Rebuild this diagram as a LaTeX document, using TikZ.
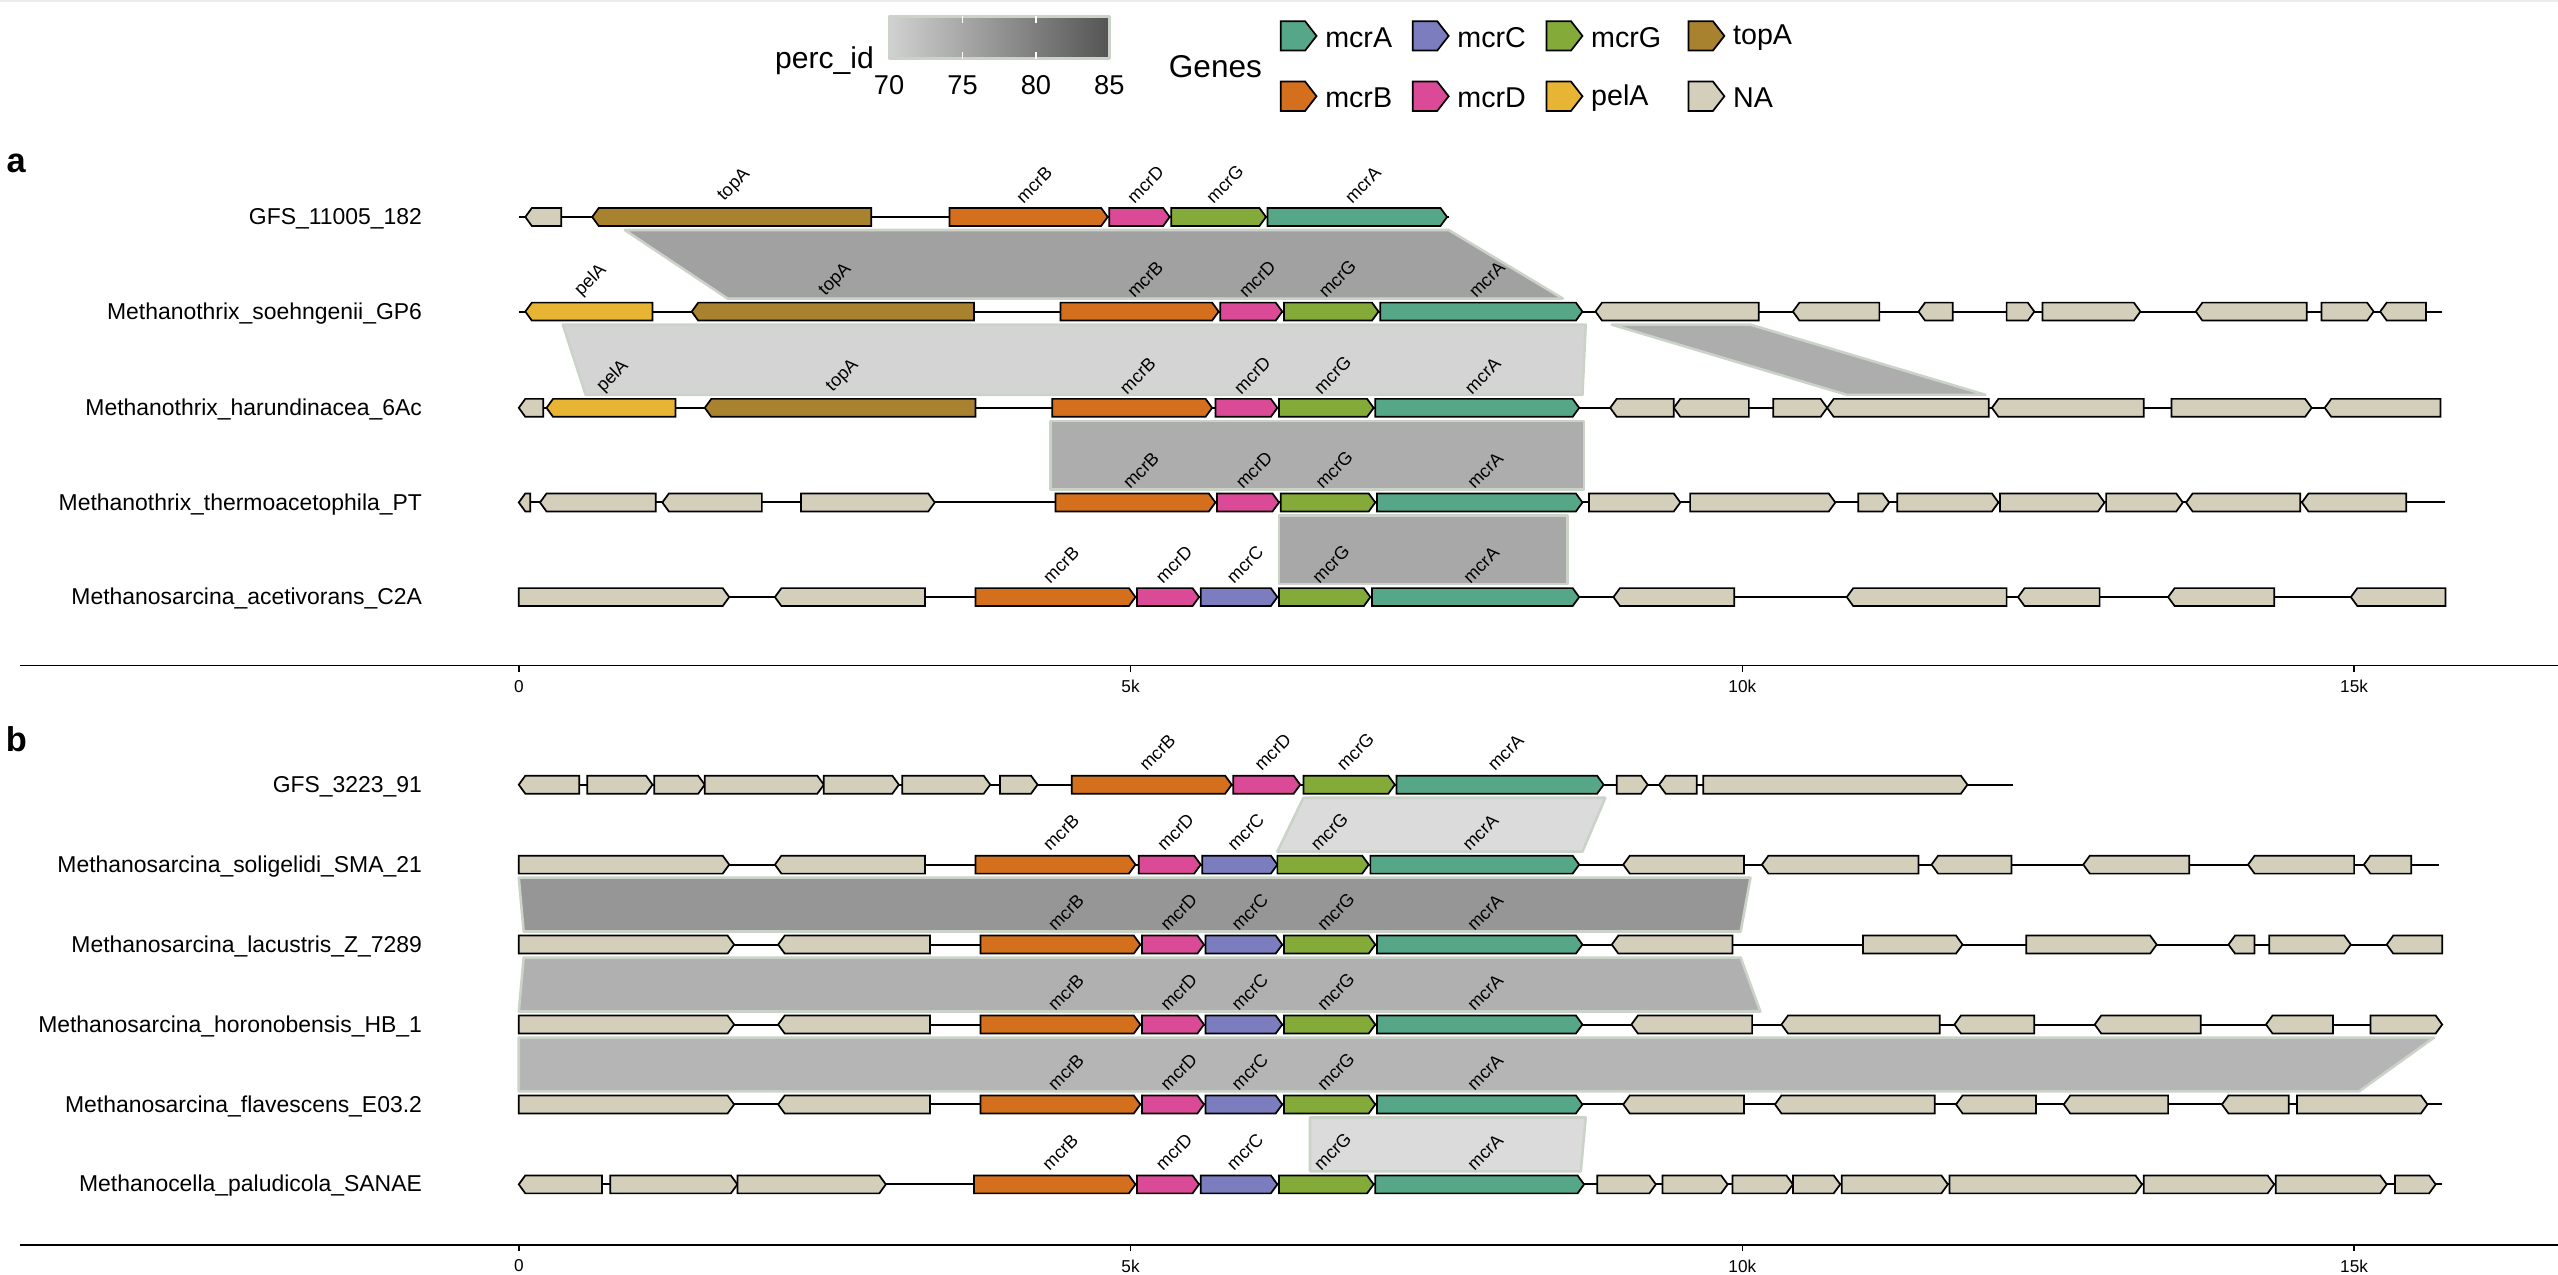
\documentclass[tikz,border=0pt]{standalone}
\usepackage{fontspec}
\setmainfont{Liberation Sans}
\definecolor{cA}{HTML}{56A788}
\definecolor{cB}{HTML}{D4701D}
\definecolor{cC}{HTML}{7B7DBE}
\definecolor{cD}{HTML}{DB4A96}
\definecolor{cG}{HTML}{84AB3A}
\definecolor{cP}{HTML}{E8B434}
\definecolor{cT}{HTML}{A98230}
\definecolor{cN}{HTML}{D4CFBB}
\definecolor{shedge}{HTML}{CBD3C9}
\tikzset{
 gene/.style={draw=black,line width=0.6pt,line join=miter},
 backbone/.style={draw=black,line width=0.7pt},
 glabel/.style={font=\fontsize{6.3}{6.5}\selectfont,rotate=45,anchor=south west,inner sep=0.4pt},
 species/.style={font=\fontsize{8}{9}\selectfont,anchor=east,inner sep=0pt},
 shade/.style={draw=shedge,line width=0.9pt,line join=round},
 tick/.style={font=\fontsize{6}{7}\selectfont,inner sep=0pt},
 legtxt/.style={font=\fontsize{10}{12}\selectfont,anchor=west,inner sep=0pt},
}
\newcounter{glc}
\newcommand\drawgene[6]{%
 \pgfmathsetmacro\gHd{min(4,(#2)-(#1))}%
 \ifnum#4=1
  \draw[gene,fill=#5] ({#1},{#3-5.5}) -- ({#2-\gHd},{#3-5.5}) -- ({#2},{#3}) -- ({#2-\gHd},{#3+5.5}) -- ({#1},{#3+5.5}) -- cycle;
 \else
  \draw[gene,fill=#5] ({#2},{#3-5.5}) -- ({#1+\gHd},{#3-5.5}) -- ({#1},{#3}) -- ({#1+\gHd},{#3+5.5}) -- ({#2},{#3+5.5}) -- cycle;
 \fi
 \def\gLtmp{#6}%
 \ifx\gLtmp\empty\else
  \stepcounter{glc}%
  \node[glabel] (gl\arabic{glc}) at ({(#1+#2)/2-3},{#3-6.3}) {#6};
 \fi}
\begin{document}
\begin{tikzpicture}[x=0.02cm,y=-0.02cm]
\useasboundingbox (0,0) rectangle (1568,781);
\draw[black!8,line width=1pt] (0,0.5) -- (1568,0.5);
% ---- legend
\node[font=\fontsize{10.5}{12}\selectfont,anchor=east,inner sep=0pt] (pid) at (536,37) {perc\_id};
\shade[left color=black!18,right color=black!67] (545,10) rectangle (680,36);
\foreach \xx in {590,635}{\draw[white,line width=0.5pt] (\xx,10) -- (\xx,14); \draw[white,line width=0.5pt] (\xx,32) -- (\xx,36);}
\foreach \xx/\tt in {545/70,590/75,635/80,680/85}{\node[font=\fontsize{9.5}{11}\selectfont,inner sep=0pt] (cbl\tt) at (\xx,52) {\tt};}
\node[font=\fontsize{11}{12}\selectfont,inner sep=0pt] (genes) at (745,41) {Genes};
\foreach \kx/\ky/\kc/\kt in {785/22/cA/mcrA,866/22/cC/mcrC,948/22/cG/mcrG,1035/22/cT/topA,785/59/cB/mcrB,866/59/cD/mcrD,948/59/cP/pelA,1035/59/cN/NA}{
 \draw[gene,fill=\kc] (\kx,\ky-9) -- (\kx+15,\ky-9) -- (\kx+22,\ky) -- (\kx+15,\ky+9) -- (\kx,\ky+9) -- cycle;
 \node[legtxt] (lg\kt) at (\kx+27,\ky+1) {\kt};}
% ---- panel labels
\node[font=\bfseries\fontsize{12}{13}\selectfont,inner sep=0pt] (pa) at (10,100) {a};
\node[font=\bfseries\fontsize{12}{13}\selectfont,inner sep=0pt] (pb) at (10,453) {b};
% ---- shading panel a
\fill[black!37] (383,141) -- (888,141) -- (958,183) -- (446,183) -- cycle;
\draw[shade] (383,141) -- (888,141) -- (958,183) -- (446,183) -- cycle;
\fill[black!17] (345,199) -- (972,199) -- (970,242) -- (359,242) -- cycle;
\draw[shade] (345,199) -- (972,199) -- (970,242) -- (359,242) -- cycle;
\fill[black!32] (988,199) -- (1073,199) -- (1217,242) -- (1132,242) -- cycle;
\draw[shade] (988,199) -- (1073,199) -- (1217,242) -- (1132,242) -- cycle;
\fill[black!32] (644,258) -- (971,258) -- (971,300) -- (644,300) -- cycle;
\draw[shade] (644,258) -- (971,258) -- (971,300) -- (644,300) -- cycle;
\fill[black!34] (784,316) -- (961,316) -- (961,358) -- (784,358) -- cycle;
\draw[shade] (784,316) -- (961,316) -- (961,358) -- (784,358) -- cycle;
% ---- shading panel b
\fill[black!14] (799,489) -- (984,489) -- (970,522) -- (783,522) -- cycle;
\draw[shade] (799,489) -- (984,489) -- (970,522) -- (783,522) -- cycle;
\fill[black!41] (318,538) -- (1073,538) -- (1067,571) -- (321,571) -- cycle;
\draw[shade] (318,538) -- (1073,538) -- (1067,571) -- (321,571) -- cycle;
\fill[black!31] (321,587) -- (1067,587) -- (1079,620) -- (318,620) -- cycle;
\draw[shade] (321,587) -- (1067,587) -- (1079,620) -- (318,620) -- cycle;
\fill[black!29] (318,636) -- (1492,636) -- (1446,669) -- (318,669) -- cycle;
\draw[shade] (318,636) -- (1492,636) -- (1446,669) -- (318,669) -- cycle;
\fill[black!14] (803,685) -- (972,685) -- (969,718) -- (803,718) -- cycle;
\draw[shade] (803,685) -- (972,685) -- (969,718) -- (803,718) -- cycle;
% ---- species labels
\foreach \yy/\nm [count=\i] in {133/GFS\_11005\_182,191/Methanothrix\_soehngenii\_GP6,250/Methanothrix\_harundinacea\_6Ac,308/Methanothrix\_thermoacetophila\_PT,366/Methanosarcina\_acetivorans\_C2A,481/GFS\_3223\_91,530/Methanosarcina\_soligelidi\_SMA\_21,579/Methanosarcina\_lacustris\_Z\_7289,628/Methanosarcina\_horonobensis\_HB\_1,677/Methanosarcina\_flavescens\_E03.2,726/Methanocella\_paludicola\_SANAE}{
 \node[species] (sp\i) at (259,\yy+1) {\nm};}
% ---- backbones
\foreach \ya/\xa/\xb in {133/318/888,191/318/1497,250/318/1496,308/318/1499,366/318/1499,481/318/1234,530/318/1495,579/318/1497,628/318/1497,677/318/1497,726/318/1497}{
 \draw[backbone] (\xa,\ya) -- (\xb,\ya);}
% ---- row a1
\drawgene{322}{344}{133}{0}{cN}{}
\drawgene{363}{534}{133}{0}{cT}{topA}
\drawgene{582}{679}{133}{1}{cB}{mcrB}
\drawgene{680}{717}{133}{1}{cD}{mcrD}
\drawgene{718}{776}{133}{1}{cG}{mcrG}
\drawgene{777}{887}{133}{1}{cA}{mcrA}
% ---- row a2
\drawgene{322}{400}{191}{0}{cP}{pelA}
\drawgene{424}{597}{191}{0}{cT}{topA}
\drawgene{650}{747}{191}{1}{cB}{mcrB}
\drawgene{748}{786}{191}{1}{cD}{mcrD}
\drawgene{787}{845}{191}{1}{cG}{mcrG}
\drawgene{846}{970}{191}{1}{cA}{mcrA}
\foreach \p/\q/\d in {978/1078/0,1099/1152/0,1176/1197/0,1230/1247/1,1252/1312/1,1346/1414/0,1423/1455/1,1459/1487/0}{\drawgene{\p}{\q}{191}{\d}{cN}{}}
% ---- row a3
\drawgene{318}{333}{250}{0}{cN}{}
\drawgene{335}{414}{250}{0}{cP}{pelA}
\drawgene{432}{598}{250}{0}{cT}{topA}
\drawgene{645}{743}{250}{1}{cB}{mcrB}
\drawgene{745}{783}{250}{1}{cD}{mcrD}
\drawgene{784}{842}{250}{1}{cG}{mcrG}
\drawgene{843}{968}{250}{1}{cA}{mcrA}
\foreach \p/\q/\d in {987/1026/0,1026/1072/0,1087/1120/1,1120/1219/0,1221/1314/0,1331/1417/1,1425/1496/0}{\drawgene{\p}{\q}{250}{\d}{cN}{}}
% ---- row a4
\foreach \p/\q/\d in {318/325/0,331/402/0,406/467/0,491/573/1}{\drawgene{\p}{\q}{308}{\d}{cN}{}}
\drawgene{647}{745}{308}{1}{cB}{mcrB}
\drawgene{746}{784}{308}{1}{cD}{mcrD}
\drawgene{785}{843}{308}{1}{cG}{mcrG}
\drawgene{844}{970}{308}{1}{cA}{mcrA}
\foreach \p/\q/\d in {974/1030/1,1036/1125/1,1139/1158/1,1163/1225/1,1226/1290/1,1291/1338/1,1340/1410/0,1411/1475/0}{\drawgene{\p}{\q}{308}{\d}{cN}{}}
% ---- row a5
\foreach \p/\q/\d in {318/447/1,475/567/0}{\drawgene{\p}{\q}{366}{\d}{cN}{}}
\drawgene{598}{696}{366}{1}{cB}{mcrB}
\drawgene{697}{735}{366}{1}{cD}{mcrD}
\drawgene{736}{783}{366}{1}{cC}{mcrC}
\drawgene{784}{840}{366}{1}{cG}{mcrG}
\drawgene{841}{968}{366}{1}{cA}{mcrA}
\foreach \p/\q/\d in {989/1063/0,1132/1230/0,1237/1287/0,1329/1394/0,1441/1499/0}{\drawgene{\p}{\q}{366}{\d}{cN}{}}
% ---- row b1
\foreach \p/\q/\d in {318/355/0,360/400/1,401/432/1,432/505/1,505/551/1,553/607/1,613/636/1}{\drawgene{\p}{\q}{481}{\d}{cN}{}}
\drawgene{657}{755}{481}{1}{cB}{mcrB}
\drawgene{756}{797}{481}{1}{cD}{mcrD}
\drawgene{799}{855}{481}{1}{cG}{mcrG}
\drawgene{856}{983}{481}{1}{cA}{mcrA}
\foreach \p/\q/\d in {991/1010/1,1017/1040/0,1044/1206/1}{\drawgene{\p}{\q}{481}{\d}{cN}{}}
% ---- row b2
\foreach \p/\q/\d in {318/447/1,475/567/0}{\drawgene{\p}{\q}{530}{\d}{cN}{}}
\drawgene{598}{696}{530}{1}{cB}{mcrB}
\drawgene{698}{736}{530}{1}{cD}{mcrD}
\drawgene{737}{783}{530}{1}{cC}{mcrC}
\drawgene{783}{839}{530}{1}{cG}{mcrG}
\drawgene{840}{968}{530}{1}{cA}{mcrA}
\foreach \p/\q/\d in {995/1069/0,1080/1176/0,1184/1233/0,1277/1342/0,1378/1443/0,1449/1478/0}{\drawgene{\p}{\q}{530}{\d}{cN}{}}
% ---- rows b3-b5 mcr
\foreach \yy in {579,628,677}{
 \drawgene{601}{699}{\yy}{1}{cB}{mcrB}
 \drawgene{700}{738}{\yy}{1}{cD}{mcrD}
 \drawgene{739}{786}{\yy}{1}{cC}{mcrC}
 \drawgene{787}{843}{\yy}{1}{cG}{mcrG}
 \drawgene{844}{970}{\yy}{1}{cA}{mcrA}
 \drawgene{318}{450}{\yy}{1}{cN}{}
 \drawgene{477}{570}{\yy}{0}{cN}{}
}
\foreach \p/\q/\d in {988/1062/0,1142/1203/1,1242/1322/1,1366/1382/0,1391/1441/1,1463/1497/0}{\drawgene{\p}{\q}{579}{\d}{cN}{}}
\foreach \p/\q/\d in {1000/1074/0,1092/1189/0,1198/1247/0,1284/1349/0,1389/1430/0,1453/1497/1}{\drawgene{\p}{\q}{628}{\d}{cN}{}}
\foreach \p/\q/\d in {995/1069/0,1088/1186/0,1199/1248/0,1265/1329/0,1362/1403/0,1408/1488/1}{\drawgene{\p}{\q}{677}{\d}{cN}{}}
% ---- row b6
\foreach \p/\q/\d in {318/369/0,374/452/1,452/543/1}{\drawgene{\p}{\q}{726}{\d}{cN}{}}
\drawgene{597}{696}{726}{1}{cB}{mcrB}
\drawgene{697}{735}{726}{1}{cD}{mcrD}
\drawgene{736}{783}{726}{1}{cC}{mcrC}
\drawgene{784}{842}{726}{1}{cG}{mcrG}
\drawgene{843}{971}{726}{1}{cA}{mcrA}
\foreach \p/\q/\d in {979/1015/1,1019/1059/1,1062/1099/1,1099/1128/1,1129/1194/1,1195/1313/1,1314/1394/1,1395/1463/1,1468/1493/1}{\drawgene{\p}{\q}{726}{\d}{cN}{}}
% ---- axes
\foreach \ay [count=\j] in {408,763}{
 \draw[black,line width=0.6pt] (12,\ay) -- (1568,\ay);
 \foreach \tx/\tl in {318/0,693/5k,1068/10k,1443/15k}{
  \draw[black,line width=0.5pt] (\tx,\ay) -- (\tx,\ay+4);
  \node[tick] (tk\j\tl) at (\tx,\ay+13) {\tl};}}
\end{tikzpicture}
\end{document}
